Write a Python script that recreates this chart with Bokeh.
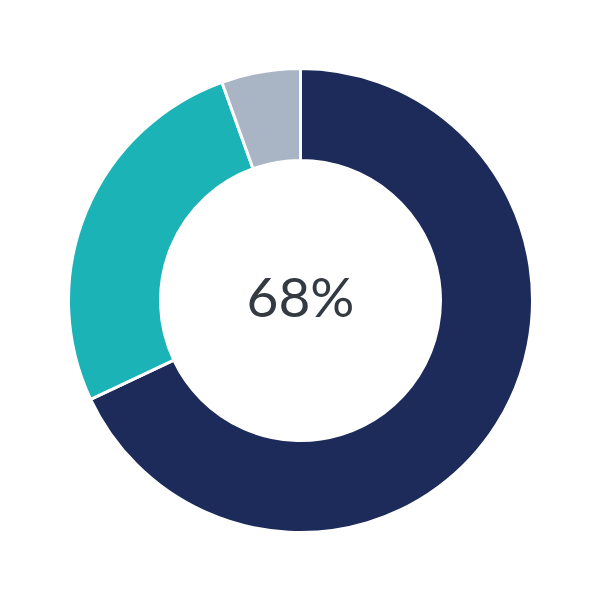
import math
from bokeh.plotting import figure
from bokeh.models import Range1d, ColumnDataSource
from bokeh.core.properties import value
from bokeh.embed import file_html
from bokeh.resources import INLINE

categories = ["A", "B", "C"]
shares = [68, 26.5, 5.5]
colors = ["#1c2b5a", "#1cb3b7", "#a9b4c4"]
center_label = "68%"

total = sum(shares)
starts, ends = [], []
acc = 0.0
for s in shares:
    a0 = math.pi / 2 - 2 * math.pi * acc / total
    acc += s
    a1 = math.pi / 2 - 2 * math.pi * acc / total
    starts.append(a0)
    ends.append(a1)

src = ColumnDataSource(dict(cat=categories, start=starts, end=ends, color=colors))

p = figure(width=584, height=584, output_backend="svg", toolbar_location=None,
           x_range=Range1d(-300, 284), y_range=Range1d(-284, 300), min_border=0)
p.axis.visible = False
p.grid.visible = False
p.outline_line_color = None
p.background_fill_color = "white"

p.annular_wedge(x=0, y=0, inner_radius=140, outer_radius=232,
                start_angle="start", end_angle="end", direction="clock",
                fill_color="color", line_color="white", line_width=3, source=src)

p.text(x=[0], y=[5], text=[center_label], text_font=value("Lato"),
       text_font_size="55px", text_font_style="normal", text_color="#343a42",
       text_align="center", text_baseline="middle")

open("out.html", "w").write(file_html(p, INLINE))
